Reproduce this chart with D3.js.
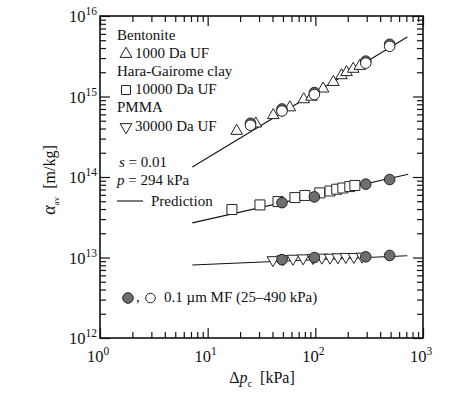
<!DOCTYPE html>
<html><head><meta charset="utf-8">
<script src="https://cdn.jsdelivr.net/npm/d3@7"></script>
<style>
html,body{margin:0;padding:0;background:#fff;}
text{font-family:"Liberation Serif","Times New Roman",serif;fill:#111;}
</style></head>
<body>
<svg id="chart" width="474" height="395"></svg>
<script>
// ---- data ----
const xDomain = [1, 1000];
const yDomain = [1e12, 1e16];
const xMajor = [1, 10, 100, 1000];
const yMajor = [1e12, 1e13, 1e14, 1e15, 1e16];

// Bentonite, 1000 Da UF (open up-triangles)
const bentTriX = [18.6, 28, 40.7, 58, 78, 92, 118, 147, 175, 195, 225, 259];
const bentTriY = [3.73e14, 4.6e14, 5.85e14, 7.3e14, 9.2e14, 9.9e14, 1.25e15, 1.51e15, 1.83e15, 2.0e15, 2.2e15, 2.39e15];
// Bentonite, 0.1 um MF
const bentMFX = [25, 49, 98, 294, 490];
const bentMFFilledY = [4.65e14, 7.0e14, 1.12e15, 2.75e15, 4.45e15];
const bentMFOpenY = [4.4e14, 6.6e14, 1.06e15, 2.6e15, 4.2e15];
const bentPredX = [7.2, 715];
const bentPredY = [1.33e14, 5.47e15];

// Hara-Gairome clay, 10000 Da UF (open squares)
const haraSqX = [16.8, 30.6, 45, 64.7, 80, 110, 137, 158, 180, 209, 233];
const haraSqY = [3.95e13, 4.5e13, 4.95e13, 5.55e13, 5.9e13, 6.35e13, 6.7e13, 7.05e13, 7.3e13, 7.6e13, 7.85e13];
// Hara-Gairome clay, 0.1 um MF (filled circles)
const haraMFX = [49, 98, 294, 490];
const haraMFY = [4.8e13, 5.66e13, 8.15e13, 9.3e13];
const haraPredX = [7.2, 730];
const haraPredY = [2.69e13, 1.08e14];

// PMMA, 30000 Da UF (open down-triangles)
const pmmaTriX = [40.4, 50, 62, 77, 95, 115, 137, 162, 192, 228, 271];
const pmmaTriY = [9.3e12, 9.6e12, 9.7e12, 9.8e12, 9.9e12, 1.0e13, 1.0e13, 1.01e13, 1.02e13, 1.02e13, 1.03e13];
// PMMA, 0.1 um MF (filled circles)
const pmmaMFX = [49, 98, 294, 490];
const pmmaMFY = [9.4e12, 1.0e13, 1.02e13, 1.06e13];
const pmmaPredX = [7.2, 715];
const pmmaPredY = [8.06e12, 1.05e13];

// ---- drawing ----
const svg = d3.select("#chart");
const L = 100, R = 423, T = 16, B = 338;
const x = d3.scaleLog().domain(xDomain).range([L, R]);
const y = d3.scaleLog().domain(yDomain).range([B, T]);
const isMajor = v => Math.abs(Math.log10(v) - Math.round(Math.log10(v))) < 1e-9;
const xMinor = x.ticks().filter(v => !isMajor(v));
const yMinor = y.ticks().filter(v => !isMajor(v));

function axis(gen, scale, vals, size, tr) {
  const g = svg.append("g").attr("transform", tr)
    .call(gen(scale).tickValues(vals).tickSize(size).tickFormat(""));
  g.select(".domain").remove();
  g.selectAll(".tick line").attr("stroke", "#111").attr("stroke-width", 1.2);
  return g;
}
// inward ticks on all four sides
axis(d3.axisBottom, x, xMinor, -6, `translate(0,${B})`);
axis(d3.axisBottom, x, xMajor, -10, `translate(0,${B})`);
axis(d3.axisTop, x, xMinor, -6, `translate(0,${T})`);
axis(d3.axisTop, x, xMajor, -10, `translate(0,${T})`);
axis(d3.axisLeft, y, yMinor, -6, `translate(${L},0)`);
axis(d3.axisLeft, y, yMajor, -10, `translate(${L},0)`);
axis(d3.axisRight, y, yMinor, -6, `translate(${R},0)`);
axis(d3.axisRight, y, yMajor, -10, `translate(${R},0)`);

svg.append("rect").attr("x", L).attr("y", T).attr("width", R - L).attr("height", B - T)
  .attr("fill", "none").attr("stroke", "#111").attr("stroke-width", 1.6);

// tick labels with superscripts
xMajor.forEach(v => {
  const t = svg.append("text").attr("x", x(v) - 2).attr("y", B + 24)
    .attr("text-anchor", "middle").attr("font-size", 16.5);
  t.append("tspan").text("10");
  t.append("tspan").attr("dy", -7).attr("font-size", 11.5).text(Math.round(Math.log10(v)));
});
yMajor.forEach(v => {
  const t = svg.append("text").attr("x", L - 3).attr("y", y(v) + 6)
    .attr("text-anchor", "end").attr("font-size", 16.5);
  t.append("tspan").text("10");
  t.append("tspan").attr("dy", -7).attr("font-size", 11.5).text(Math.round(Math.log10(v)));
});

// axis titles
{
  const t = svg.append("text").attr("x", 262).attr("y", 383).attr("text-anchor", "middle").attr("font-size", 16);
  t.append("tspan").text("Δ");
  t.append("tspan").attr("font-style", "italic").text("p");
  t.append("tspan").attr("font-size", 10).attr("dy", 4).text("c");
  t.append("tspan").attr("dy", -4).text("\u2002[kPa]");
}
{
  const t = svg.append("text").attr("transform", "translate(55,180) rotate(-90)")
    .attr("text-anchor", "middle").attr("font-size", 16);
  t.append("tspan").attr("font-style", "italic").attr("font-size", 18).text("α");
  t.append("tspan").attr("font-size", 9).attr("dy", 4).text("av");
  t.append("tspan").attr("dy", -4).text("\u2002[m/kg]");
}

// prediction lines
const line = d3.line().x(d => x(d[0])).y(d => y(d[1]));
[[bentPredX, bentPredY], [haraPredX, haraPredY], [pmmaPredX, pmmaPredY]].forEach(([xs, ys]) => {
  svg.append("path").datum(xs.map((v, i) => [v, ys[i]])).attr("d", line)
    .attr("fill", "none").attr("stroke", "#111").attr("stroke-width", 1.1);
});

const GREY = "#6e6e6e";
const sym = (type, size) => d3.symbol().type(type).size(size)();
function markers(xs, ys, type, size, fill, rot) {
  svg.append("g").selectAll("path").data(xs.map((v, i) => [v, ys[i]])).join("path")
    .attr("transform", d => `translate(${x(d[0])},${y(d[1])})` + (rot ? ` rotate(${rot})` : ""))
    .attr("d", sym(type, size))
    .attr("fill", fill).attr("stroke", "#222").attr("stroke-width", 1);
}
// Bentonite
markers(bentTriX, bentTriY, d3.symbolTriangle, 58, "#fff");
markers(bentMFX, bentMFFilledY, d3.symbolCircle, 88, GREY);
markers(bentMFX, bentMFOpenY, d3.symbolCircle, 88, "#fff");
// Hara-Gairome
markers(haraSqX, haraSqY, d3.symbolSquare, 100, "#fff");
markers(haraMFX, haraMFY, d3.symbolCircle, 88, GREY);
// PMMA
markers(pmmaTriX, pmmaTriY, d3.symbolTriangle, 58, "#fff", 180);
markers(pmmaMFX, pmmaMFY, d3.symbolCircle, 88, GREY);

// legend
const fs = 15;
function txt(xp, yp, parts) {
  const t = svg.append("text").attr("x", xp).attr("y", yp).attr("font-size", fs);
  parts.forEach(p => {
    const s = t.append("tspan").text(p.t);
    if (p.i) s.attr("font-style", "italic");
  });
}
txt(117, 40, [{t: "Bentonite"}]);
svg.append("path").attr("transform", "translate(126,54)").attr("d", sym(d3.symbolTriangle, 60))
  .attr("fill", "none").attr("stroke", "#222");
txt(135, 58, [{t: "1000 Da UF"}]);
txt(117, 76, [{t: "Hara-Gairome clay"}]);
svg.append("path").attr("transform", "translate(126,90)").attr("d", sym(d3.symbolSquare, 80))
  .attr("fill", "none").attr("stroke", "#222");
txt(135, 94, [{t: "10000 Da UF"}]);
txt(117, 112, [{t: "PMMA"}]);
svg.append("path").attr("transform", "translate(126,127) rotate(180)").attr("d", sym(d3.symbolTriangle, 60))
  .attr("fill", "none").attr("stroke", "#222");
txt(135, 131, [{t: "30000 Da UF"}]);
txt(119, 167, [{t: "s", i: 1}, {t: " = 0.01"}]);
txt(117, 185, [{t: "p", i: 1}, {t: " = 294 kPa"}]);
svg.append("line").attr("x1", 117).attr("x2", 143).attr("y1", 201).attr("y2", 201)
  .attr("stroke", "#111").attr("stroke-width", 1.1);
txt(151, 206, [{t: "Prediction"}]);
svg.append("path").attr("transform", "translate(128,298)").attr("d", sym(d3.symbolCircle, 88))
  .attr("fill", GREY).attr("stroke", "#222");
txt(136, 302, [{t: ","}]);
svg.append("path").attr("transform", "translate(150.5,298)").attr("d", sym(d3.symbolCircle, 72))
  .attr("fill", "#fff").attr("stroke", "#222");
txt(164, 302, [{t: "0.1 µm MF (25–490 kPa)"}]);
</script>
</body></html>
